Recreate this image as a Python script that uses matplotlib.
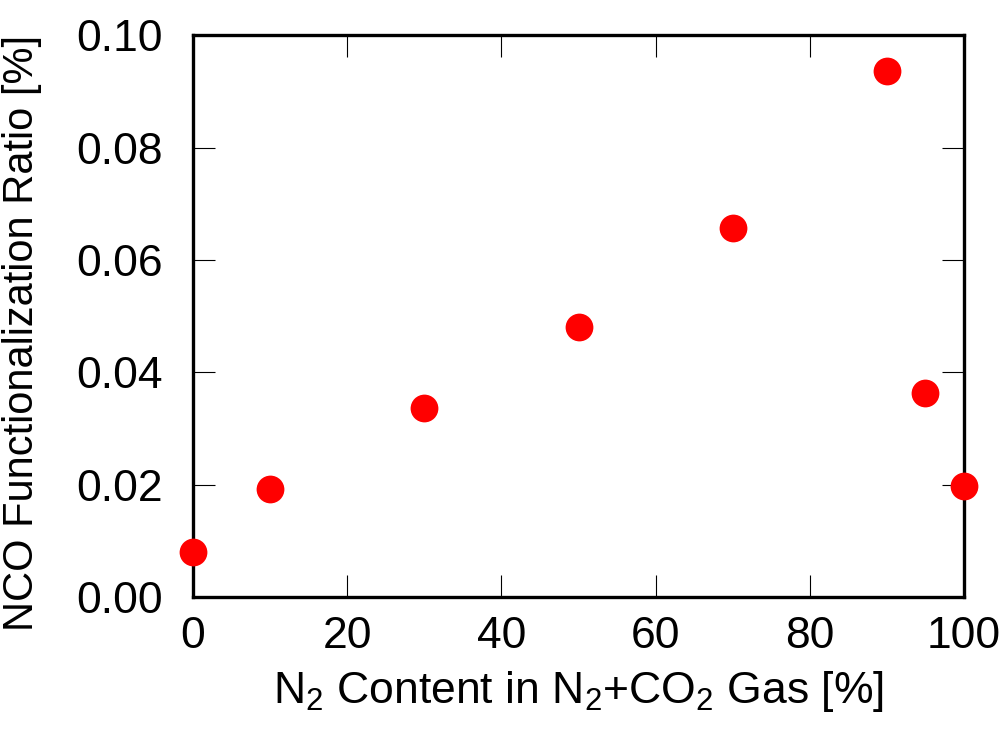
import matplotlib
matplotlib.use("Agg")
import matplotlib.pyplot as plt

n2_content = [0, 10, 30, 50, 70, 90, 95, 100]
nco_ratio = [0.0080, 0.0192, 0.0336, 0.0480, 0.0657, 0.0936, 0.0363, 0.0198]
x_ticks = [0, 20, 40, 60, 80, 100]
y_ticks = [0.00, 0.02, 0.04, 0.06, 0.08, 0.10]

plt.rcParams['font.family'] = ['Liberation Sans', 'DejaVu Sans']
plt.rcParams['mathtext.fontset'] = 'custom'
plt.rcParams['mathtext.rm'] = 'Liberation Sans'
plt.rcParams['mathtext.it'] = 'Liberation Sans'

fig = plt.figure(figsize=(10, 7.32), dpi=100)
ax = fig.add_axes([0.193, 0.1844, 0.771, 0.7676])

ax.plot(n2_content, nco_ratio, 'o', color='#ff0000', markersize=20,
        markeredgewidth=0, clip_on=False, zorder=5)

ax.set_xlim(0, 100)
ax.set_ylim(0, 0.10)
ax.set_xticks(x_ticks)
ax.set_yticks(y_ticks)
ax.set_yticklabels([f"{v:.2f}" for v in y_ticks])

for s in ax.spines.values():
    s.set_linewidth(2.4)
ax.tick_params(direction='in', length=16, width=0.8, labelsize=32,
               top=True, right=True)
ax.tick_params(axis='y', pad=22)
ax.tick_params(axis='x', pad=14)

ax.set_xlabel(r"N$_2$ Content in N$_2$+CO$_2$ Gas [%]", fontsize=32, labelpad=8)
ax.set_ylabel("NCO Functionalization Ratio [%]", fontsize=30)
ax.yaxis.set_label_coords(-0.196, 0.47)

fig.savefig("out.png", dpi=100)
